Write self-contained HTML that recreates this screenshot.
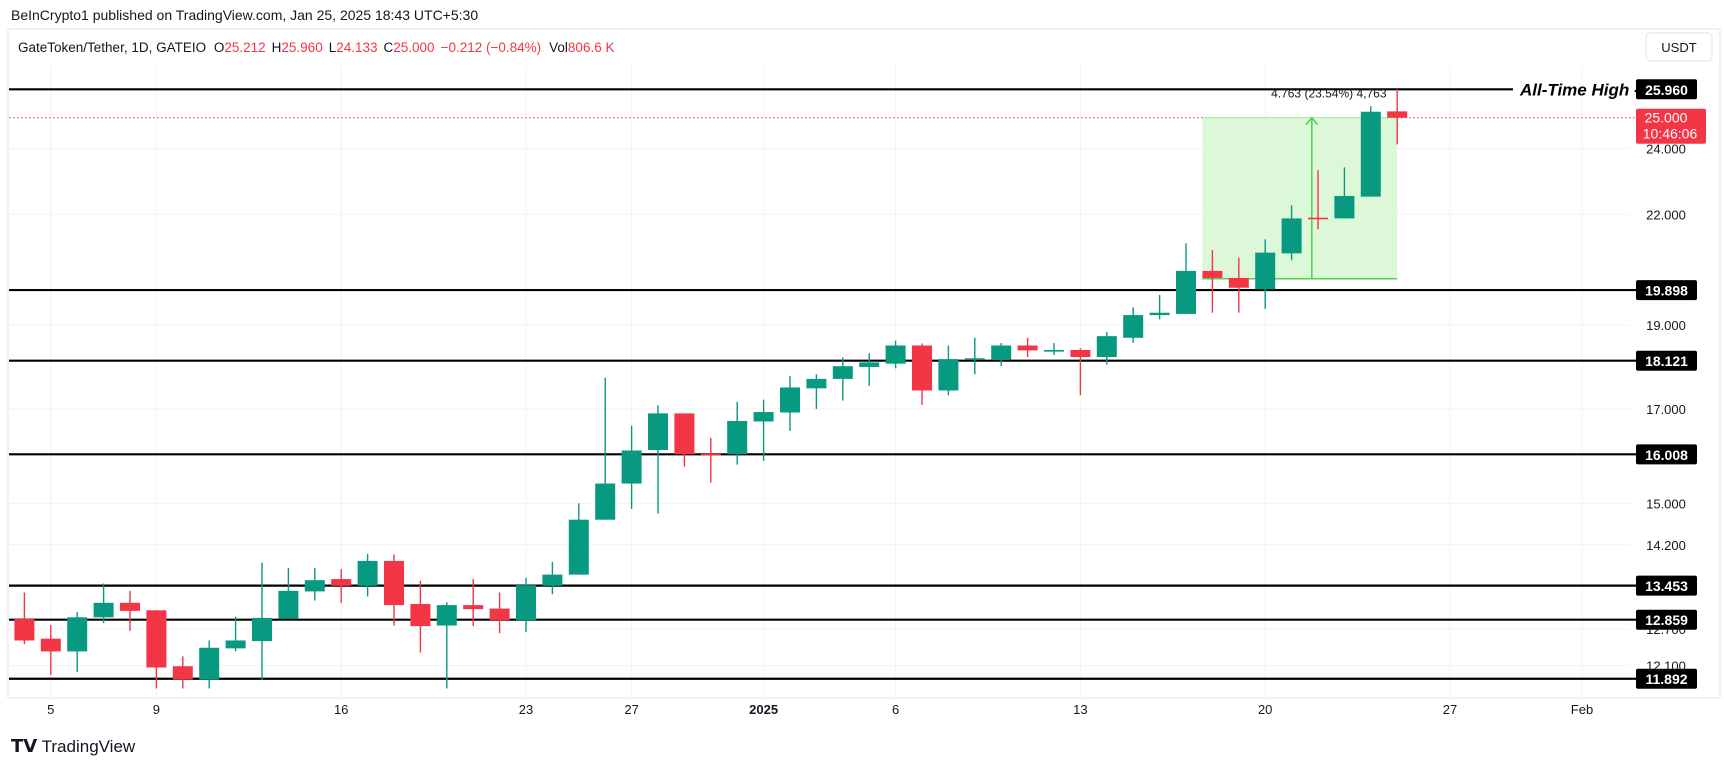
<!DOCTYPE html>
<html><head><meta charset="utf-8">
<style>
html,body{margin:0;padding:0;background:#fff;}
svg{display:block;font-family:"Liberation Sans",Arial,sans-serif;}
</style></head>
<body>
<svg id="chart" width="1724" height="761" viewBox="0 0 1724 761" xmlns="http://www.w3.org/2000/svg">
  <rect x="0" y="0" width="1724" height="761" fill="#ffffff"/>
  <text x="11" y="20" font-size="14" fill="#131722">BeInCrypto1 published on TradingView.com, Jan 25, 2025 18:43 UTC+5:30</text>
  <rect x="8" y="29" width="1712" height="669" fill="none" stroke="#e0e3eb" stroke-width="1"/>
  <g id="grid"></g>
  <g id="levels"></g>
  <g id="measure"></g>
  <g id="candles"></g>
  <g id="axes"></g>
  <text x="18" y="52" font-size="13.5" fill="#131722">GateToken/Tether, 1D, GATEIO <tspan dx="4">O</tspan><tspan fill="#f23645">25.212</tspan><tspan dx="6">H</tspan><tspan fill="#f23645">25.960</tspan><tspan dx="6">L</tspan><tspan fill="#f23645">24.133</tspan><tspan dx="6">C</tspan><tspan fill="#f23645">25.000</tspan><tspan dx="6" fill="#f23645">−0.212 (−0.84%)</tspan><tspan dx="8">Vol</tspan><tspan fill="#f23645">806.6 K</tspan></text>
  <rect x="1646" y="33" width="66" height="28" rx="4" fill="#fff" stroke="#e0e3eb"/>
  <text x="1679" y="52" font-size="13" fill="#131722" text-anchor="middle">USDT</text>
  <text x="11" y="752" font-size="17" fill="#131722"><tspan font-weight="bold" font-size="18">𝗧𝗩</tspan> TradingView</text>
</svg>
<script>
const dates = ["Dec4","Dec5","Dec6","Dec7","Dec8","Dec9","Dec10","Dec11","Dec12","Dec13","Dec14","Dec15","Dec16","Dec17","Dec18","Dec19","Dec20","Dec21","Dec22","Dec23","Dec24","Dec25","Dec26","Dec27","Dec28","Dec29","Dec30","Dec31","Jan1","Jan2","Jan3","Jan4","Jan5","Jan6","Jan7","Jan8","Jan9","Jan10","Jan11","Jan12","Jan13","Jan14","Jan15","Jan16","Jan17","Jan18","Jan19","Jan20","Jan21","Jan22","Jan23","Jan24","Jan25"];
const opens = [12.87,12.54,12.33,12.90,13.15,13.02,12.09,11.88,12.38,12.50,12.88,13.35,13.57,13.45,13.90,13.13,12.76,13.11,13.05,12.85,13.45,13.65,14.68,15.40,16.10,16.90,16.02,16.01,16.72,16.92,17.47,17.69,17.97,18.05,18.49,17.42,18.17,18.14,18.49,18.37,18.38,18.21,18.68,19.25,19.28,20.41,20.22,19.92,20.89,21.90,21.88,22.52,25.212];
const highs = [13.33,12.77,12.99,13.49,13.36,13.02,12.25,12.51,12.91,13.87,13.77,13.77,13.75,14.03,14.02,13.54,13.16,13.57,13.33,13.59,13.88,15.00,17.72,16.63,17.08,16.90,16.36,17.16,17.21,17.76,17.80,18.20,18.30,18.61,18.54,18.49,18.68,18.55,18.68,18.55,18.42,18.82,19.45,19.77,21.17,20.98,20.77,21.28,22.26,23.32,23.41,25.39,25.96];
const lows = [12.45,11.95,12.00,12.80,12.67,11.74,11.74,11.74,12.33,11.87,12.88,13.19,13.15,13.26,12.76,12.31,11.74,12.75,12.63,12.65,13.30,13.65,14.68,14.89,14.80,15.75,15.42,15.79,15.87,16.51,17.00,17.19,17.53,17.94,17.09,17.31,17.80,17.99,18.21,18.26,17.31,18.03,18.55,19.14,19.28,19.31,19.31,19.41,20.70,21.57,21.88,22.52,24.133];
const closes = [12.51,12.33,12.90,13.15,13.01,12.07,11.88,12.39,12.51,12.89,13.36,13.55,13.45,13.90,13.11,12.75,13.11,13.04,12.85,13.46,13.65,14.68,15.40,16.09,16.90,16.01,16.00,16.73,16.93,17.49,17.69,17.99,18.08,18.49,17.42,18.16,18.18,18.49,18.37,18.38,18.21,18.72,19.25,19.31,20.41,20.22,19.96,20.91,21.88,21.88,22.54,25.20,25.00];
const priceTicks = [24.0,22.0,19.0,17.0,15.0,14.2,12.7,12.1];
const levelValues = [25.960,19.898,18.121,16.008,13.453,12.859,11.892];
const dateTickIdx = [1,5,12,19,23,28,33,40,47,54,59];
const dateTickLabels = ["5","9","16","23","27","2025","6","13","20","27","Feb"];
const measureStartIdx = 45, measureEndIdx = 52, measureTop = 25.0, measureBottom = 20.20;
const lastPrice = 25.0;

const NS = "http://www.w3.org/2000/svg";
const LNTOP = Math.log(25.96);
function yS(p){ return 89.3 + (LNTOP - Math.log(p)) * 755; }
function xS(i){ return 526 + 26.4 * (i - 19); }
function mk(tag, attrs, parent){ const e=document.createElementNS(NS,tag); for(const k in attrs) e.setAttribute(k,attrs[k]); parent.appendChild(e); return e; }
const GREEN="#089981", RED="#f23645";
const grid=document.getElementById('grid'), lv=document.getElementById('levels'), cg=document.getElementById('candles'), ax=document.getElementById('axes'), ms=document.getElementById('measure');

priceTicks.forEach((p,k)=>{
  const l=mk('line',{x1:9,x2:1630,y1:yS(p),y2:yS(p),stroke:'#f0f3fa','stroke-width':1},grid);
  
  
  const t=mk('text',{x:1666,y:yS(p)+5,'font-size':13,fill:'#131722','text-anchor':'middle'},ax);
  
  
  t.textContent=p.toFixed(3);
});
dateTickIdx.forEach((i,k)=>{
  const l=mk('line',{x1:xS(i),x2:xS(i),y1:66,y2:698,stroke:'#f0f3fa','stroke-width':1},grid);
  
  
  const t=mk('text',{x:xS(i),y:714,'font-size':13,fill:'#131722','text-anchor':'middle','font-weight':dateTickLabels[k]==='2025'?'bold':'normal'},ax);
  
  
  t.textContent=dateTickLabels[k];
});

const cp=mk('line',{x1:9,x2:1636,y1:yS(lastPrice),y2:yS(lastPrice),stroke:RED,'stroke-width':1,'stroke-dasharray':'1.5 2.5'},lv);



levelValues.forEach((v,k)=>{
  const y=yS(v);
  const l=mk('line',{x1:9,x2:k===0?1513:1636,y1:y,y2:y,stroke:'#000','stroke-width':2.2},lv);
  
  
  const r=mk('rect',{x:1636,y:y-10,width:61,height:20,rx:2,fill:'#000'},lv);
  
  
  const t=mk('text',{x:1666.5,y:y+5.5,'font-size':14,fill:'#fff','text-anchor':'middle','font-weight':'bold'},lv);
  
  
  t.textContent=v.toFixed(3);
});
const ath=mk('text',{x:1520,y:yS(25.96)+6,'font-size':17,'font-style':'italic','font-weight':'bold',fill:'#000'},lv);


ath.textContent='All-Time High -';

const mx1=xS(measureStartIdx)-10, mx2=xS(measureEndIdx), my1=yS(measureTop), my2=yS(measureBottom);
const mr=mk('rect',{x:mx1,y:my1,width:mx2-mx1,height:my2-my1,fill:'#dcf8d8'},ms);


const mb=mk('line',{x1:mx1,x2:mx2,y1:my2,y2:my2,stroke:'#4cd44c','stroke-width':1.5},ms);


const mt=mk('line',{x1:mx1,x2:mx2,y1:my1,y2:my1,stroke:'#a8e8a0','stroke-width':1},ms);


const ax_=(mx1+mx2)/2+12;
const ma=mk('path',{d:`M${ax_} ${my2} L${ax_} ${my1} M${ax_-6} ${my1+7} L${ax_} ${my1} L${ax_+6} ${my1+7}`,stroke:'#4cd44c','stroke-width':1.5,fill:'none'},ms);


const mlab=mk('text',{x:ax_+17,y:my1-20,'font-size':12,fill:'#131722','text-anchor':'middle'},ms);


mlab.textContent='4.763 (23.54%) 4,763';

dates.forEach((d,i)=>{
  const o=opens[i],h=highs[i],l=lows[i],c=closes[i];
  const col=c>=o?GREEN:RED, x=xS(i);
  const w=mk('line',{x1:x,x2:x,y1:yS(h),y2:yS(l),stroke:col,'stroke-width':1.4},cg);
  
  
  const top=yS(Math.max(o,c)), bot=yS(Math.min(o,c));
  const b=mk('rect',{x:x-10,y:top,width:20,height:Math.max(1.6,bot-top),fill:col},cg);
  
  
});

const yl=yS(lastPrice);
const cr=mk('rect',{x:1636,y:yl-9,width:70,height:35,rx:2,fill:RED},ax);


const ct=mk('text',{x:1666,y:yl+5,'font-size':14,fill:'#fff','text-anchor':'middle'},ax);


ct.textContent='25.000';
const cd=mk('text',{x:1670,y:yl+21,'font-size':14,fill:'#fff','text-anchor':'middle'},ax);


cd.textContent='10:46:06';
</script>
</body></html>
